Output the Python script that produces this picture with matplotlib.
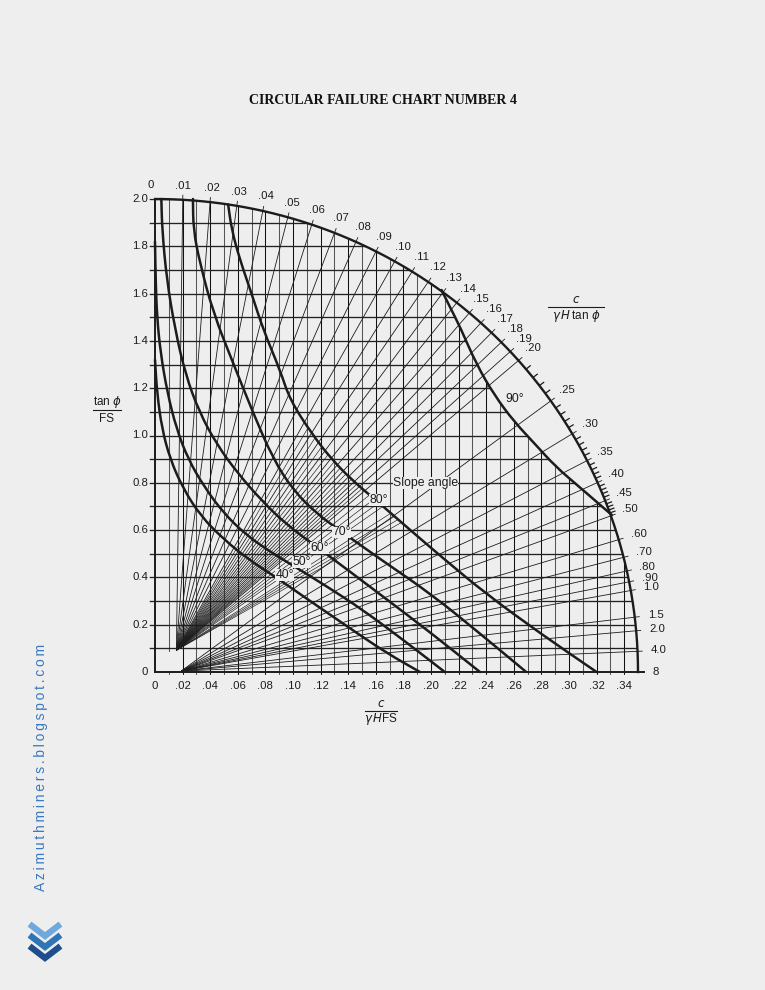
import numpy as np
import matplotlib.pyplot as plt
from matplotlib.path import Path
from matplotlib.patches import PathPatch, Polygon, Rectangle
from matplotlib.collections import LineCollection
from matplotlib.lines import Line2D

plt.rcParams['font.family'] = ['Liberation Sans', 'DejaVu Sans']
plt.rcParams['mathtext.fontset'] = 'dejavusans'

W, H = 765, 990
BG = '#eeeeee'
INK = '#1c1c1c'

# outer arc of the chart (ellipse semi-axes in chart units)
ARC_A, ARC_B = 0.35, 2.0

# c / (gamma H tan phi) lines, labelled ones run out to the arc
major_ratios = [0.01, 0.02, 0.03, 0.04, 0.05, 0.06, 0.07, 0.08, 0.09, 0.10,
                0.11, 0.12, 0.13, 0.14, 0.15, 0.16, 0.17, 0.18, 0.19, 0.20,
                0.25, 0.30, 0.35, 0.40, 0.45, 0.50, 0.60, 0.70, 0.80, 0.90,
                1.0, 1.5, 2.0, 4.0]
major_labels = ['.01', '.02', '.03', '.04', '.05', '.06', '.07', '.08', '.09', '.10',
                '.11', '.12', '.13', '.14', '.15', '.16', '.17', '.18', '.19', '.20',
                '.25', '.30', '.35', '.40', '.45', '.50', '.60', '.70', '.80', '.90',
                '1.0', '1.5', '2.0', '4.0']
# intermediate lines drawn only inside the 80 degree curve
hatch_ratios = [0.105, 0.115, 0.125, 0.135, 0.145, 0.155, 0.165, 0.175, 0.185, 0.195,
                0.21, 0.22, 0.23, 0.24, 0.26, 0.27, 0.28, 0.29]
# short ticks on the arc
tick_ratios = [0.21, 0.22, 0.23, 0.24, 0.26, 0.27, 0.28, 0.29, 0.31, 0.32, 0.33, 0.34,
               0.36, 0.37, 0.38, 0.39, 0.41, 0.42, 0.43, 0.44, 0.46, 0.47, 0.48, 0.49]

x_ticks = [0, 0.02, 0.04, 0.06, 0.08, 0.10, 0.12, 0.14, 0.16, 0.18, 0.20,
           0.22, 0.24, 0.26, 0.28, 0.30, 0.32, 0.34]
x_tick_labels = ['0', '.02', '.04', '.06', '.08', '.10', '.12', '.14', '.16', '.18', '.20',
                 '.22', '.24', '.26', '.28', '.30', '.32', '.34']
y_ticks = [0, 0.2, 0.4, 0.6, 0.8, 1.0, 1.2, 1.4, 1.6, 1.8, 2.0]
y_tick_labels = ['0', '0.2', '0.4', '0.6', '0.8', '1.0', '1.2', '1.4', '1.6', '1.8', '2.0']

# slope angle curves (x = c/(gamma H FS), y = tan(phi)/FS)
slope90_x = [0.2077, 0.214, 0.221, 0.233, 0.246, 0.260, 0.276, 0.290, 0.308, 0.331]
slope90_y = [1.615, 1.54, 1.46, 1.30, 1.17, 1.06, 0.96, 0.87, 0.78, 0.664]
slope80_x = [0.053, 0.0556, 0.0616, 0.070, 0.0785, 0.0906, 0.0978, 0.1145, 0.128, 0.143,
             0.160, 0.185, 0.210, 0.240, 0.280, 0.320]
slope80_y = [1.977, 1.869, 1.742, 1.60, 1.446, 1.277, 1.15, 1.0, 0.90, 0.81,
             0.727, 0.60, 0.475, 0.33, 0.16, 0.0]
slope70_x = [0.0275, 0.0278, 0.0326, 0.0423, 0.0567, 0.0712, 0.0857, 0.100, 0.117, 0.136,
             0.165, 0.200, 0.235, 0.269]
slope70_y = [2.0, 1.87, 1.728, 1.517, 1.305, 1.094, 0.90, 0.77, 0.67, 0.59,
             0.47, 0.33, 0.165, 0.0]
slope60_x = [0.0046, 0.0052, 0.0085, 0.0145, 0.022, 0.032, 0.045, 0.060, 0.078, 0.096,
             0.117, 0.140, 0.165, 0.200, 0.2355]
slope60_y = [2.0, 1.87, 1.66, 1.45, 1.26, 1.10, 0.96, 0.84, 0.72, 0.62,
             0.53, 0.43, 0.32, 0.165, 0.0]
slope50_x = [0.0, 0.0005, 0.0015, 0.004, 0.009, 0.0155, 0.024, 0.036, 0.050, 0.066,
             0.083, 0.100, 0.125, 0.150, 0.180, 0.210]
slope50_y = [1.82, 1.65, 1.50, 1.35, 1.18, 1.03, 0.90, 0.78, 0.67, 0.58,
             0.51, 0.45, 0.36, 0.265, 0.135, 0.0]
slope40_x = [0.0, 0.0015, 0.005, 0.011, 0.020, 0.033, 0.050, 0.068, 0.087, 0.105,
             0.125, 0.145, 0.168, 0.192]
slope40_y = [1.32, 1.18, 1.03, 0.90, 0.78, 0.66, 0.56, 0.475, 0.403, 0.33,
             0.25, 0.17, 0.08, 0.0]
slope_curves = [(slope90_x, slope90_y), (slope80_x, slope80_y), (slope70_x, slope70_y),
                (slope60_x, slope60_y), (slope50_x, slope50_y), (slope40_x, slope40_y)]

slope_labels = ['90°', 'Slope angle', '80°', '70°', '60°', '50°', '40°']
slope_label_x = [0.261, 0.196, 0.162, 0.135, 0.119, 0.106, 0.094]
slope_label_y = [1.155, 0.80, 0.727, 0.593, 0.524, 0.465, 0.41]

# pixel scale of the chart (px per unit) and origin in the figure
SX, SY = 1380.0, 236.5
OX, OY = 155.0, 672.0


def fx(px):
    return px / W


def fy(py):
    return 1 - py / H


def arc_point(r):
    y = 1.0 / np.sqrt((r / ARC_A) ** 2 + 1.0 / ARC_B ** 2)
    return r * y, y


def outward(x, y):
    px, py = x * SX, y * SY
    n = np.hypot(px, py)
    return px / n, py / n


def shift(x, y, ux, uy, d):
    return x + d * ux / SX, y + d * uy / SY


def smooth_path(xs, ys):
    pts = np.column_stack([xs, ys])
    mids = (pts[:-1] + pts[1:]) / 2
    verts = [pts[0], mids[0]]
    codes = [Path.MOVETO, Path.LINETO]
    for i in range(1, len(pts) - 1):
        verts += [pts[i], mids[i]]
        codes += [Path.CURVE3, Path.CURVE3]
    verts.append(pts[-1])
    codes.append(Path.LINETO)
    return Path(verts, codes)


fig = plt.figure(figsize=(W / 100, H / 100), dpi=100, facecolor=BG)
x0, x1, y0, y1 = -0.01, 0.37, -0.05, 2.1
ax = fig.add_axes([fx(OX + x0 * SX), fy(OY - y0 * SY),
                   (x1 - x0) * SX / W, (y1 - y0) * SY / H])
ax.set_xlim(x0, x1)
ax.set_ylim(y0, y1)
ax.axis('off')

# region inside the arc and the 90 degree curve, used to clip the grid
t_bot = np.arctan2(slope90_y[-1] / ARC_B, slope90_x[-1] / ARC_A)
t_top = np.arctan2(slope90_y[0] / ARC_B, slope90_x[0] / ARC_A)
tb = np.linspace(0, t_bot, 60)
tt = np.linspace(t_top, np.pi / 2, 80)
poly = [(-0.004, -0.012), (ARC_A + 0.003, -0.012)]
poly += list(zip(ARC_A * np.cos(tb), ARC_B * np.sin(tb)))
poly += list(zip(slope90_x[::-1], slope90_y[::-1]))
poly += list(zip(ARC_A * np.cos(tt), ARC_B * np.sin(tt)))
poly += [(-0.004, ARC_B + 0.003)]
clip = Polygon(poly, closed=True, transform=ax.transData, facecolor='none', edgecolor='none')
ax.add_patch(clip)

# region inside the 80 degree curve, for the intermediate lines
poly80 = [(-0.01, -0.01), (slope80_x[-1], -0.01)]
poly80 += list(zip(slope80_x[::-1], slope80_y[::-1]))
poly80 += [(slope80_x[0], 2.1), (-0.01, 2.1)]
clip80 = Polygon(poly80, closed=True, transform=ax.transData, facecolor='none', edgecolor='none')
ax.add_patch(clip80)

# grid
vlines = [[(k * 0.01, -0.012), (k * 0.01, 2.05)] for k in range(1, 35)]
vcolors = ['#111111' if k % 2 == 0 else '#555555' for k in range(1, 35)]
vg = LineCollection(vlines, colors=vcolors, linewidths=0.75, zorder=1)
ax.add_collection(vg)
vg.set_clip_path(clip)
hlines = [[(-0.004, k * 0.1), (0.36, k * 0.1)] for k in range(1, 21)]
hg = LineCollection(hlines, colors='#222222', linewidths=0.95, zorder=1)
ax.add_collection(hg)
hg.set_clip_path(clip)

# empty corner near the origin
ax.add_patch(Rectangle((0.001, 0.002), 0.017, 0.083, facecolor=BG, edgecolor='none', zorder=1.5))

# radial lines
P1 = (0.0155, 0.092)
P2 = (0.019, 0.004)
major_segs = []
for r in major_ratios:
    xa, ya = arc_point(r)
    ux, uy = outward(xa, ya)
    xe, ye = shift(xa, ya, ux, uy, 5)
    start = P1 if r <= 0.2 else P2
    major_segs.append([start, (xe, ye)])
ax.add_collection(LineCollection(major_segs, colors=INK, linewidths=0.6, zorder=2))

hatch_segs = [[P1, arc_point(r)] for r in hatch_ratios]
hc = LineCollection(hatch_segs, colors=INK, linewidths=0.45, zorder=2)
ax.add_collection(hc)
hc.set_clip_path(clip80)

tick_segs = []
for r in tick_ratios:
    xa, ya = arc_point(r)
    ux, uy = outward(xa, ya)
    tick_segs.append([(xa, ya), shift(xa, ya, ux, uy, 6)])
ax.add_collection(LineCollection(tick_segs, colors=INK, linewidths=0.9, zorder=3))

# outer arc and axes
t = np.linspace(0, np.pi / 2, 300)
ax.plot(ARC_A * np.cos(t), ARC_B * np.sin(t), color=INK, lw=1.7, zorder=4)
ax.plot([0, 0], [0, 2.0], color=INK, lw=1.4, zorder=4)
ax.plot([0, ARC_A + 0.004], [0, 0], color=INK, lw=1.4, zorder=4)

# slope angle curves
for xs, ys in slope_curves:
    ax.add_patch(PathPatch(smooth_path(xs, ys), facecolor='none', edgecolor=INK,
                           lw=1.8, zorder=4, capstyle='round'))

for lab, lx, ly in zip(slope_labels, slope_label_x, slope_label_y):
    ax.text(lx, ly, lab, fontsize=8.8, ha='center', va='center', color=INK, zorder=6,
            bbox=dict(facecolor=BG, edgecolor='none', pad=0.2))

# ratio labels round the arc
for r, lab in zip(major_ratios, major_labels):
    xa, ya = arc_point(r)
    ux, uy = outward(xa, ya)
    d = 13 + 8 * abs(ux)
    ax.annotate(lab, (xa, ya), xytext=(d * ux, d * uy), textcoords='offset pixels',
                fontsize=8.2, ha='center', va='center', color=INK)
ax.annotate('0', (0, ARC_B), xytext=(-4, 14), textcoords='offset pixels',
            fontsize=8.2, ha='center', va='center', color=INK)
ax.annotate('8', (ARC_A, 0), xytext=(18, 0), textcoords='offset pixels',
            fontsize=8.2, ha='center', va='center', color=INK)

# tick labels
for xt, lab in zip(x_ticks, x_tick_labels):
    ax.text(xt, -0.038, lab, fontsize=8.2, ha='center', va='top', color=INK)
for yt, lab in zip(y_ticks, y_tick_labels):
    ax.text(-0.005, yt, lab, fontsize=8.2, ha='right', va='center', color=INK)


def fraction(cx, top_y, bar_y, bot_y, half, num, den):
    fig.text(fx(cx), fy(top_y), num, fontsize=8.5, ha='center', va='center', color=INK)
    fig.add_artist(Line2D([fx(cx - half), fx(cx + half)], [fy(bar_y), fy(bar_y)],
                          color=INK, lw=0.8, transform=fig.transFigure))
    fig.text(fx(cx), fy(bot_y), den, fontsize=8.5, ha='center', va='center', color=INK)


fraction(107, 402, 410, 419, 14, r'tan $\phi$', 'FS')
fraction(381, 704, 711, 719, 16, r'$c$', r'$\gamma\,H$FS')
fraction(576, 300, 307, 316, 28, r'$c$', r'$\gamma\,H\,$tan $\phi$')

fig.text(fx(383), fy(100), 'CIRCULAR FAILURE CHART NUMBER 4', fontsize=10,
         fontfamily='Liberation Serif', fontweight='bold', ha='center', va='center', color='#111111')

# blog watermark and logo
fig.text(fx(41), fy(767), '\u2009'.join('Azimuthminers.blogspot.com'), rotation=90,
         fontsize=10, ha='center', va='center', color='#3a78c0')
chevron_colors = ['#6fa8dc', '#2f74b5', '#1f4e8c']
for i, c in enumerate(chevron_colors):
    top = 926 + i * 11
    fig.add_artist(Line2D([fx(32), fx(45), fx(58)], [fy(top), fy(top + 10), fy(top)],
                          color=c, lw=4.5, solid_joinstyle='miter', transform=fig.transFigure))

fig.savefig('out.png', dpi=100, facecolor=BG)
